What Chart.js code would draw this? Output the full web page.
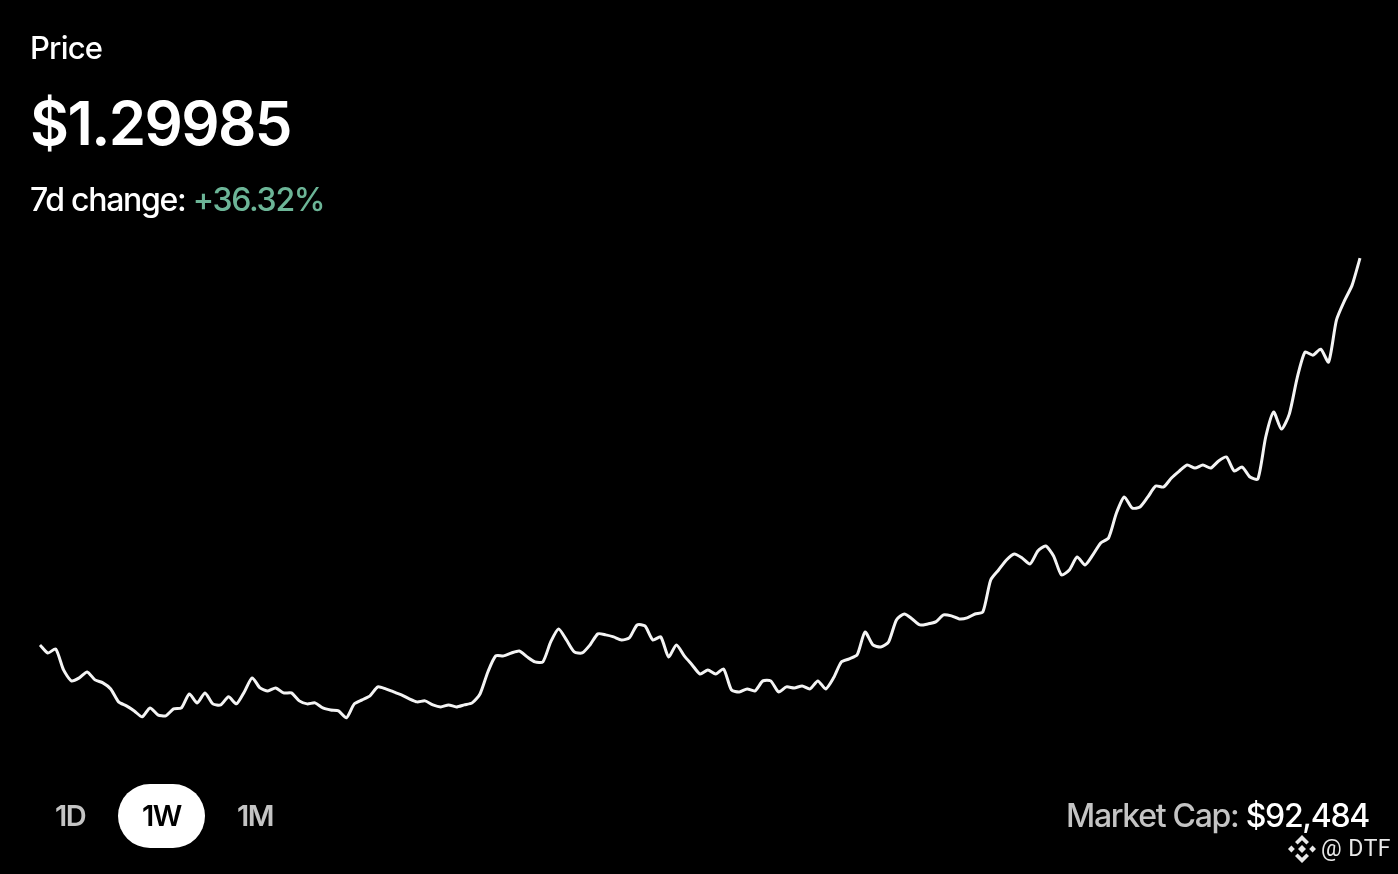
<!DOCTYPE html>
<html>
<head>
<meta charset="utf-8">
<title>Price</title>
<script src="https://cdn.jsdelivr.net/npm/chart.js@4"></script>
<style>
  html, body { margin: 0; padding: 0; background: #000; }
  body { width: 1398px; height: 874px; position: relative; overflow: hidden; font-family: Inter, sans-serif; color: #fff; }
  #wrap { position: absolute; left: 0; top: 0; width: 1398px; height: 874px; }
  .txt { position: absolute; white-space: nowrap; line-height: 1; }
  #lblPrice { left: 30px; top: 32px; font-size: 31px; font-weight: 500; letter-spacing: -0.8px; }
  #lblValue { left: 30px; top: 93px; font-size: 60px; font-weight: 600; letter-spacing: -1.6px; }
  #lblChange { left: 30px; top: 184px; font-size: 32px; font-weight: 500; letter-spacing: -1.3px; }
  #lblChange span { color: #6cb597; }
  .range { position: absolute; top: 784px; height: 64px; line-height: 64px; text-align: center; font-size: 29px; font-weight: 600; letter-spacing: -1.5px; color: #c4c4c4; }
  .range.on { background: #fff; color: #000; border-radius: 32px; }
  #lblCap { right: 29px; top: 800px; font-size: 32px; font-weight: 500; letter-spacing: -1.3px; color: #c4c4c4; }
  #lblCap span { color: #fff; }
  #mark { position: absolute; left: 1288px; top: 835px; }
  #lblDtf { left: 1321px; top: 837px; font-family: Roboto, sans-serif; font-size: 23px; letter-spacing: 0.5px; color: #e8e8e8; }
</style>
</head>
<body>
<div id="wrap"><canvas id="chartPrice"></canvas></div>
<div class="txt" id="lblPrice">Price</div>
<div class="txt" id="lblValue">$1.29985</div>
<div class="txt" id="lblChange">7d change: <span>+36.32%</span></div>
<div class="range" style="left:40px;width:60px">1D</div>
<div class="range on" style="left:118px;width:87px">1W</div>
<div class="range" style="left:225px;width:60px">1M</div>
<div class="txt" id="lblCap">Market Cap: <span>$92,484</span></div>
<svg id="mark" width="28" height="28" viewBox="0 0 28 28" fill="#e8e8e8">
  <path d="M14 0l7 7-2.6 2.6L14 5.2 9.6 9.6 7 7z"/>
  <path d="M14 28l7-7-2.6-2.6L14 22.8l-4.4-4.4L7 21z"/>
  <path d="M3.4 10.6L6.8 14l-3.4 3.4L0 14z"/>
  <path d="M24.6 10.6L28 14l-3.4 3.4-3.4-3.4z"/>
  <path d="M14 10l4 4-4 4-4-4z"/>
</svg>
<div class="txt" id="lblDtf">@ DTF</div>
<script>
// Preço de hora em hora, 7 dias
const prices = [
  0.9535, 0.9463, 0.9499, 0.9311, 0.9213, 0.9240, 0.9293, 0.9222, 0.9195, 0.9141,
  0.9025, 0.8989, 0.8944, 0.8891, 0.8971, 0.8909, 0.8900, 0.8962, 0.8971, 0.9096,
  0.9016, 0.9105, 0.9007, 0.8998, 0.9070, 0.9007, 0.9114, 0.9240, 0.9150, 0.9123,
  0.9150, 0.9105, 0.9105, 0.9034, 0.9007, 0.9016, 0.8971, 0.8953, 0.8944, 0.8882,
  0.9007, 0.9043, 0.9079, 0.9159, 0.9141, 0.9114, 0.9088, 0.9052, 0.9025, 0.9034,
  0.8998, 0.8980, 0.8998, 0.8980, 0.8998, 0.9016, 0.9096, 0.9293, 0.9437, 0.9437,
  0.9463, 0.9481, 0.9428, 0.9383, 0.9383, 0.9562, 0.9678, 0.9580, 0.9472, 0.9463,
  0.9535, 0.9634, 0.9625, 0.9607, 0.9580, 0.9598, 0.9714, 0.9705, 0.9580, 0.9607,
  0.9428, 0.9535, 0.9437, 0.9356, 0.9275, 0.9311, 0.9275, 0.9320, 0.9132, 0.9114,
  0.9141, 0.9123, 0.9213, 0.9213, 0.9114, 0.9159, 0.9150, 0.9168, 0.9141, 0.9213,
  0.9141, 0.9240, 0.9383, 0.9410, 0.9446, 0.9651, 0.9535, 0.9517, 0.9562, 0.9759,
  0.9812, 0.9768, 0.9714, 0.9723, 0.9741, 0.9804, 0.9795, 0.9768, 0.9777, 0.9812,
  0.9830, 1.0117, 1.0206, 1.0296, 1.0350, 1.0314, 1.0260, 1.0376, 1.0421, 1.0332,
  1.0162, 1.0206, 1.0323, 1.0251, 1.0341, 1.0448, 1.0493, 1.0716, 1.0860, 1.0761,
  1.0770, 1.0860, 1.0958, 1.0949, 1.1030, 1.1092, 1.1146, 1.1119, 1.1146, 1.1119,
  1.1182, 1.1218, 1.1092, 1.1128, 1.1039, 1.1021, 1.1397, 1.1620, 1.1468, 1.1602,
  1.1925, 1.2157, 1.2130, 1.2184, 1.2068, 1.2444, 1.2614, 1.2757, 1.29985
];
const hours = prices.map((_, i) => i);
const priceMin = 0.88;
const priceMax = 1.30;

Chart.defaults.font.family = 'Inter, sans-serif';

new Chart(document.getElementById('chartPrice'), {
  type: 'line',
  data: {
    labels: hours,
    datasets: [{
      label: 'Price',
      data: prices,
      borderColor: '#f4f4f4',
      borderWidth: 3,
      pointRadius: 0,
      tension: 0.22,
      fill: false,
      clip: false
    }]
  },
  options: {
    responsive: true,
    maintainAspectRatio: false,
    animation: false,
    layout: { padding: { left: 40, right: 38, top: 258, bottom: 147 } },
    plugins: { legend: { display: false }, tooltip: { enabled: false } },
    scales: {
      x: { display: false },
      y: { display: false, min: priceMin, max: priceMax }
    }
  }
});
</script>
</body>
</html>
